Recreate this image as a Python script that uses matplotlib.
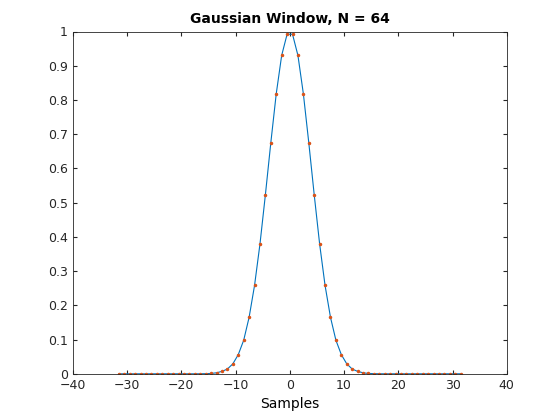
import numpy as np
import matplotlib.pyplot as plt

# sample positions (N = 64, centred)
samples = np.arange(-31.5, 32, 1.0)
# window values, right half (0.5 .. 31.5)
right_half = [0.992, 0.930, 0.818, 0.675, 0.523, 0.379, 0.258, 0.165,
              0.098, 0.056, 0.029, 0.014, 0.007, 0.003, 0.001, 0.0004,
              0.0001, 0, 0, 0, 0, 0, 0, 0, 0, 0, 0, 0, 0, 0, 0, 0]
left_half = right_half[::-1]
window = np.array(left_half + right_half)

fig = plt.figure(figsize=(5.6, 4.2), dpi=100)
ax = fig.add_axes([0.13, 0.11, 0.775, 0.815])
ax.plot(samples, window, color="#0072BD", linewidth=0.8)
ax.plot(samples, window, ".", color="#D95319", markersize=3)

ax.set_xlim(-40, 40)
ax.set_ylim(0, 1)
ax.set_xticks(range(-40, 41, 10))
ax.set_yticks(np.arange(0, 1.01, 0.1))
ax.set_yticklabels(["0", "0.1", "0.2", "0.3", "0.4", "0.5", "0.6", "0.7", "0.8", "0.9", "1"])
ax.tick_params(direction="in", labelsize=9, length=3, top=True, right=True, colors="#262626")
for s in ax.spines.values():
    s.set_color("#262626")
    s.set_linewidth(0.6)
ax.set_xlabel("Samples", fontsize=10)
ax.set_title("Gaussian Window, N = 64", fontsize=10, fontweight="bold")

fig.savefig("out.png", dpi=100)
